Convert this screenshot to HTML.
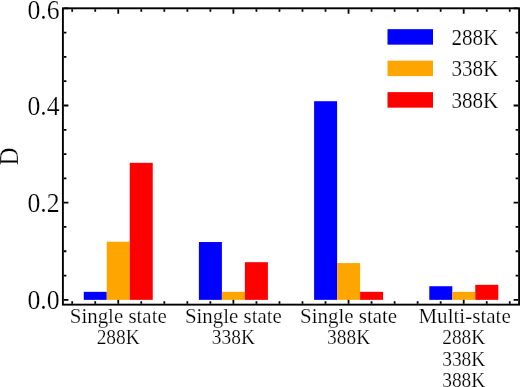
<!DOCTYPE html>
<html><head><meta charset="utf-8"><title>D</title>
<style>html,body{margin:0;padding:0;background:#fff}svg{display:block}text{font-family:"Liberation Serif",serif;fill:#000;stroke:#fff;stroke-width:0.22px}</style></head><body>
<svg width="520" height="387" viewBox="0 0 520 387">
<rect width="520" height="387" fill="#fff"/>
<path d="M72.19 303.65v-2.5M72.19 9.30v2.5M95.22 303.65v-2.5M95.22 9.30v2.5M118.25 303.65v-4.5M118.25 9.30v4.5M141.28 303.65v-2.5M141.28 9.30v2.5M164.31 303.65v-2.5M164.31 9.30v2.5M187.34 303.65v-2.5M187.34 9.30v2.5M210.37 303.65v-2.5M210.37 9.30v2.5M233.40 303.65v-4.5M233.40 9.30v4.5M256.43 303.65v-2.5M256.43 9.30v2.5M279.46 303.65v-2.5M279.46 9.30v2.5M302.49 303.65v-2.5M302.49 9.30v2.5M325.52 303.65v-2.5M325.52 9.30v2.5M348.55 303.65v-4.5M348.55 9.30v4.5M371.58 303.65v-2.5M371.58 9.30v2.5M394.61 303.65v-2.5M394.61 9.30v2.5M417.64 303.65v-2.5M417.64 9.30v2.5M440.67 303.65v-2.5M440.67 9.30v2.5M463.70 303.65v-4.5M463.70 9.30v4.5M486.73 303.65v-2.5M486.73 9.30v2.5M509.76 303.65v-2.5M509.76 9.30v2.5M63.90 299.85h4.5M518.10 299.85h-4.5M63.90 275.56h2.5M518.10 275.56h-2.5M63.90 251.26h2.5M518.10 251.26h-2.5M63.90 226.97h2.5M518.10 226.97h-2.5M63.90 202.67h4.5M518.10 202.67h-4.5M63.90 178.38h2.5M518.10 178.38h-2.5M63.90 154.08h2.5M518.10 154.08h-2.5M63.90 129.79h2.5M518.10 129.79h-2.5M63.90 105.49h4.5M518.10 105.49h-4.5M63.90 81.20h2.5M518.10 81.20h-2.5M63.90 56.90h2.5M518.10 56.90h-2.5M63.90 32.61h2.5M518.10 32.61h-2.5M63.90 8.31h4.5M518.10 8.31h-4.5" stroke="#000" stroke-width="1.8" fill="none"/>
<rect x="83.75" y="291.83" width="23.00" height="8.02" fill="#0000ff"/>
<rect x="106.75" y="241.74" width="23.00" height="58.11" fill="#ffa500"/>
<rect x="129.75" y="162.83" width="23.00" height="137.02" fill="#ff0000"/>
<rect x="198.90" y="242.03" width="23.00" height="57.82" fill="#0000ff"/>
<rect x="221.90" y="291.83" width="23.00" height="8.02" fill="#ffa500"/>
<rect x="244.90" y="262.19" width="23.00" height="37.66" fill="#ff0000"/>
<rect x="314.10" y="101.21" width="23.00" height="198.64" fill="#0000ff"/>
<rect x="337.10" y="263.07" width="23.00" height="36.78" fill="#ffa500"/>
<rect x="360.10" y="291.83" width="23.00" height="8.02" fill="#ff0000"/>
<rect x="429.30" y="286.24" width="23.00" height="13.61" fill="#0000ff"/>
<rect x="452.30" y="291.83" width="23.00" height="8.02" fill="#ffa500"/>
<rect x="475.30" y="284.79" width="23.00" height="15.06" fill="#ff0000"/>
<rect x="62.9" y="8.3" width="456.20000000000005" height="296.34999999999997" fill="none" stroke="#000" stroke-width="1.9"/>
<text x="27.4" y="18.7" font-size="27.3" textLength="32.2" lengthAdjust="spacingAndGlyphs" text-anchor="start">0.6</text>
<text x="27.4" y="115.10000000000001" font-size="27.3" textLength="32.2" lengthAdjust="spacingAndGlyphs" text-anchor="start">0.4</text>
<text x="27.4" y="212.0" font-size="27.3" textLength="32.2" lengthAdjust="spacingAndGlyphs" text-anchor="start">0.2</text>
<text x="27.4" y="308.9" font-size="27.3" textLength="32.2" lengthAdjust="spacingAndGlyphs" text-anchor="start">0.0</text>
<text transform="translate(17.7,156.4) rotate(-90) scale(1.02,1.12)" font-size="24.5" text-anchor="middle">D</text>
<text x="69.75" y="322.60" font-size="21.2" textLength="97" lengthAdjust="spacingAndGlyphs" text-anchor="start">Single state</text>
<text x="96.65" y="344.20" font-size="21.2" textLength="43.2" lengthAdjust="spacingAndGlyphs" text-anchor="start">288K</text>
<text x="184.90" y="322.60" font-size="21.2" textLength="97" lengthAdjust="spacingAndGlyphs" text-anchor="start">Single state</text>
<text x="211.80" y="344.20" font-size="21.2" textLength="43.2" lengthAdjust="spacingAndGlyphs" text-anchor="start">338K</text>
<text x="300.10" y="322.60" font-size="21.2" textLength="97" lengthAdjust="spacingAndGlyphs" text-anchor="start">Single state</text>
<text x="327.00" y="344.20" font-size="21.2" textLength="43.2" lengthAdjust="spacingAndGlyphs" text-anchor="start">388K</text>
<text x="418.40" y="322.60" font-size="21.2" textLength="92.4" lengthAdjust="spacingAndGlyphs" text-anchor="start">Multi-state</text>
<text x="442.20" y="344.20" font-size="21.2" textLength="43.2" lengthAdjust="spacingAndGlyphs" text-anchor="start">288K</text>
<text x="442.20" y="365.80" font-size="21.2" textLength="43.2" lengthAdjust="spacingAndGlyphs" text-anchor="start">338K</text>
<text x="442.20" y="387.40" font-size="21.2" textLength="43.2" lengthAdjust="spacingAndGlyphs" text-anchor="start">388K</text>
<rect x="387.5" y="29.15" width="45.5" height="15.5" fill="#0000ff"/>
<text x="451.4" y="44.90" font-size="22.8" textLength="47" lengthAdjust="spacingAndGlyphs" text-anchor="start">288K</text>
<rect x="387.5" y="60.65" width="45.5" height="15.5" fill="#ffa500"/>
<text x="451.4" y="76.40" font-size="22.8" textLength="47" lengthAdjust="spacingAndGlyphs" text-anchor="start">338K</text>
<rect x="387.5" y="92.15" width="45.5" height="15.5" fill="#ff0000"/>
<text x="451.4" y="107.90" font-size="22.8" textLength="47" lengthAdjust="spacingAndGlyphs" text-anchor="start">388K</text>
</svg></body></html>
